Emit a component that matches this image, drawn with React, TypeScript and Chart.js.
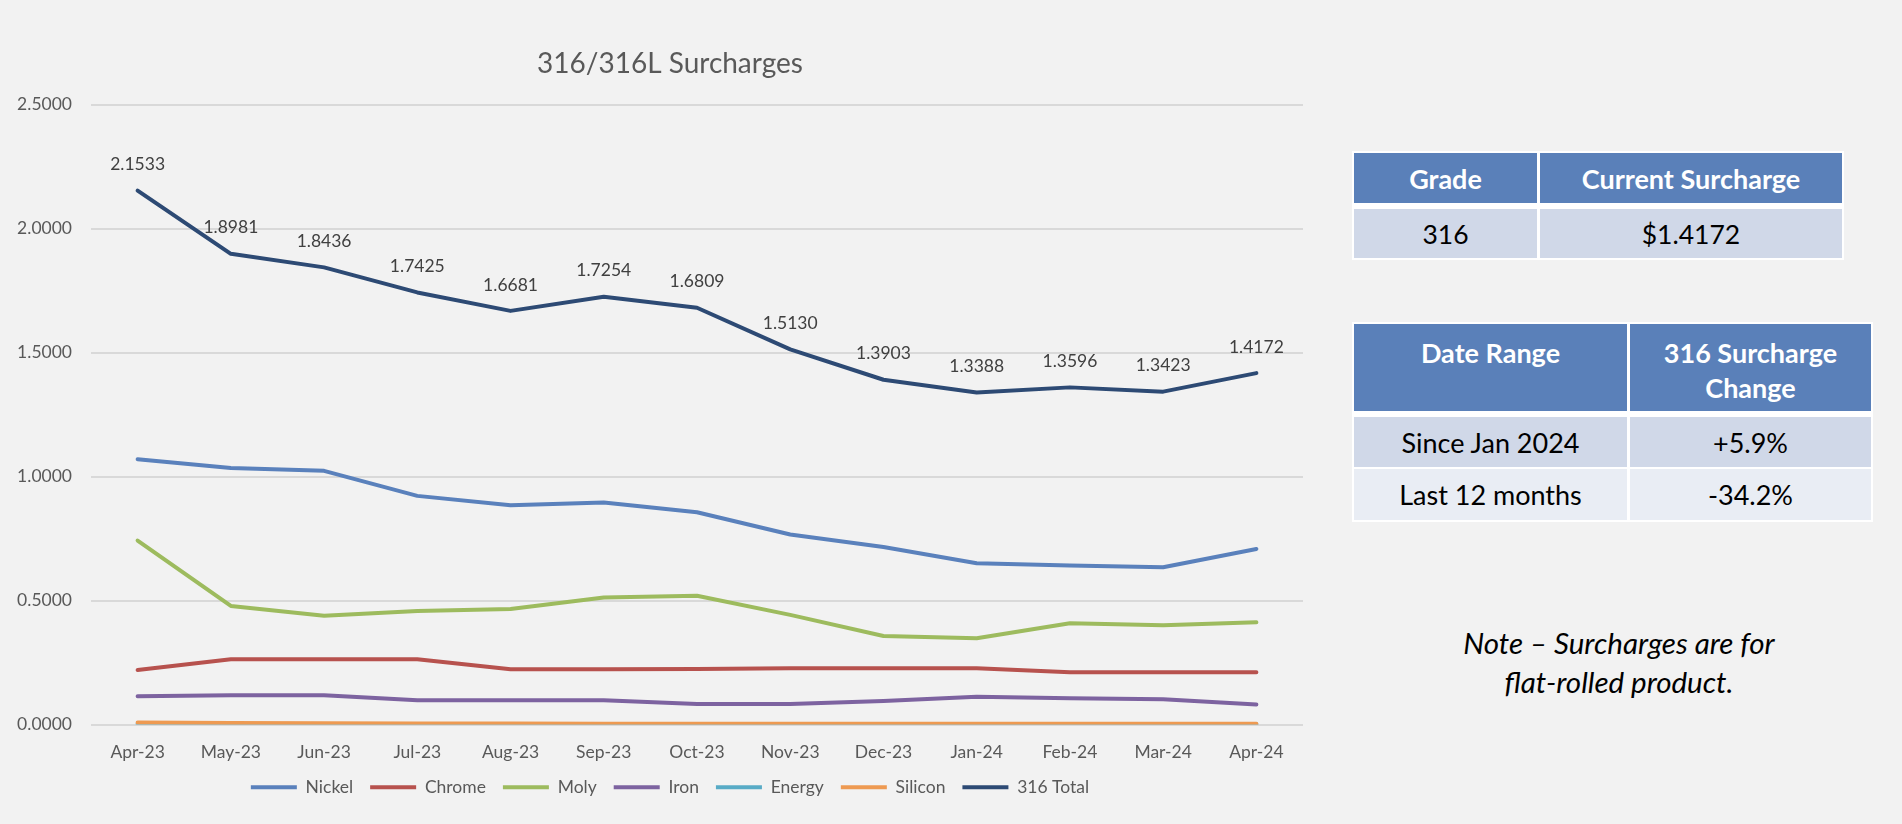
import React, { useEffect, useRef } from "react";
import { Chart, registerables } from "chart.js";

Chart.register(...registerables);

// Monthly surcharge components ($/lb) for 316/316L
const months = [
  "Apr-23", "May-23", "Jun-23", "Jul-23", "Aug-23", "Sep-23", "Oct-23",
  "Nov-23", "Dec-23", "Jan-24", "Feb-24", "Mar-24", "Apr-24",
];
const nickel = [1.070, 1.034, 1.023, 0.922, 0.884, 0.895, 0.856, 0.766, 0.716, 0.650, 0.641, 0.634, 0.708];
const chrome = [0.220, 0.263, 0.263, 0.263, 0.223, 0.223, 0.224, 0.227, 0.227, 0.227, 0.211, 0.211, 0.211];
const moly = [0.742, 0.478, 0.439, 0.458, 0.466, 0.512, 0.519, 0.442, 0.357, 0.348, 0.408, 0.400, 0.412];
const iron = [0.114, 0.118, 0.118, 0.098, 0.098, 0.098, 0.083, 0.083, 0.095, 0.112, 0.106, 0.102, 0.081];
const energy = [0.003, 0.001, 0.001, 0.001, 0.001, 0.001, 0.001, 0.001, 0.001, 0.001, 0.001, 0.001, 0.001];
const silicon = [0.008, 0.006, 0.005, 0.004, 0.004, 0.003, 0.003, 0.003, 0.003, 0.003, 0.003, 0.003, 0.003];
const total316 = [2.1533, 1.8981, 1.8436, 1.7425, 1.6681, 1.7254, 1.6809, 1.5130, 1.3903, 1.3388, 1.3596, 1.3423, 1.4172];

const seriesNames = ["Nickel", "Chrome", "Moly", "Iron", "Energy", "Silicon", "316 Total"];
const seriesColors = ["#5a81bc", "#b7524e", "#9dbb5e", "#7d63a0", "#58abc6", "#ee9a52", "#2d4a74"];
const seriesValues = [nickel, chrome, moly, iron, energy, silicon, total316];

// Side tables
const gradeHeader = ["Grade", "Current Surcharge"];
const gradeRow = ["316", "$1.4172"];
const changeHeader = ["Date Range", "316 Surcharge Change"];
const changeRows = [
  ["Since Jan 2024", "+5.9%"],
  ["Last 12 months", "-34.2%"],
];
const noteLines = ["Note \u2013 Surcharges are for", "flat-rolled product."];

const FONT = "Lato, 'Open Sans', sans-serif";
const HEADER_BG = "#5a80b9";
const ROW_BG = ["#d0d8e8", "#e9edf4"];

// Writes the value above each point of the total series
const totalLabels = {
  id: "totalLabels",
  afterDatasetsDraw(chart: any) {
    const idx = seriesNames.length - 1;
    const meta = chart.getDatasetMeta(idx);
    const ctx = chart.ctx;
    ctx.save();
    ctx.font = `17.5px ${FONT}`;
    ctx.fillStyle = "#404040";
    ctx.textAlign = "center";
    ctx.textBaseline = "middle";
    meta.data.forEach((pt: any, i: number) => {
      ctx.fillText(total316[i].toFixed(4), pt.x, pt.y - 26);
    });
    ctx.restore();
  },
};

function SurchargeChart() {
  const ref = useRef<HTMLCanvasElement | null>(null);
  useEffect(() => {
    if (!ref.current) return;
    const chart = new Chart(ref.current, {
      type: "line",
      data: {
        labels: months,
        datasets: seriesNames.map((name, i) => ({
          label: name,
          data: seriesValues[i],
          borderColor: seriesColors[i],
          backgroundColor: seriesColors[i],
          borderWidth: 4,
          pointRadius: 0,
          pointHoverRadius: 0,
          tension: 0,
          borderCapStyle: "round",
          borderJoinStyle: "round",
          order: seriesNames.length - 1 - i,
        })),
      },
      options: {
        animation: false,
        responsive: true,
        maintainAspectRatio: false,
        layout: { padding: { top: 0, left: 0, right: 0, bottom: 18 } },
        plugins: {
          title: {
            display: true,
            text: "316/316L Surcharges",
            color: "#595959",
            font: { family: FONT, size: 28, weight: "normal" },
            padding: { top: 47, bottom: 24 },
          },
          legend: {
            position: "bottom",
            labels: {
              color: "#595959",
              font: { family: FONT, size: 17.5 },
              usePointStyle: true,
              pointStyle: "line",
              pointStyleWidth: 46,
              padding: 17,
              sort: (a: any, b: any) => a.datasetIndex - b.datasetIndex,
            },
          },
          tooltip: { enabled: false },
        },
        scales: {
          x: {
            offset: true,
            grid: { display: false, drawTicks: false },
            border: { display: false },
            ticks: {
              color: "#595959",
              font: { family: FONT, size: 17.5 },
              padding: 17,
              maxRotation: 0,
              autoSkip: false,
            },
            afterFit: (s: any) => {
              s.height = 37;
            },
          },
          y: {
            min: 0,
            max: 2.5,
            grid: { color: "#d9d9d9", lineWidth: 2, drawTicks: false },
            border: { display: false },
            ticks: {
              stepSize: 0.5,
              color: "#595959",
              font: { family: FONT, size: 17.5 },
              padding: 19,
              callback: (v: any) => Number(v).toFixed(4),
            },
            afterFit: (s: any) => {
              s.width = 91;
            },
          },
          spacer: {
            position: "right",
            display: true,
            grid: { display: false, drawTicks: false },
            border: { display: false },
            ticks: { display: false },
            afterFit: (s: any) => {
              s.width = 37;
            },
          },
        },
      },
      plugins: [totalLabels],
    } as any);
    return () => chart.destroy();
  }, []);
  return (
    <div style={{ position: "absolute", left: 0, top: 0, width: 1340, height: 824 }}>
      <canvas ref={ref} />
    </div>
  );
}

const cellBase: React.CSSProperties = {
  position: "absolute",
  display: "flex",
  justifyContent: "center",
  alignItems: "center",
  textAlign: "center",
  fontFamily: FONT,
  boxSizing: "border-box",
};

function GradeTable() {
  const cols = [
    { left: 2, width: 183 },
    { left: 188, width: 302 },
  ];
  return (
    <div style={{ position: "absolute", left: 1352, top: 151, width: 492, height: 109, background: "#ffffff" }}>
      {gradeHeader.map((t, i) => (
        <div
          key={"h" + i}
          style={{
            ...cellBase,
            left: cols[i].left,
            width: cols[i].width,
            top: 2,
            height: 50,
            background: HEADER_BG,
            color: "#ffffff",
            fontWeight: 700,
            fontSize: 27,
          }}
        >
          {t}
        </div>
      ))}
      {gradeRow.map((t, i) => (
        <div
          key={"r" + i}
          style={{
            ...cellBase,
            left: cols[i].left,
            width: cols[i].width,
            top: 58,
            height: 49,
            background: ROW_BG[0],
            color: "#000000",
            fontSize: 26.5,
          }}
        >
          {t}
        </div>
      ))}
    </div>
  );
}

function ChangeTable() {
  const cols = [
    { left: 2, width: 273 },
    { left: 278, width: 241 },
  ];
  const rowPos = [
    { top: 95, height: 50 },
    { top: 147, height: 51 },
  ];
  return (
    <div style={{ position: "absolute", left: 1352, top: 322, width: 521, height: 200, background: "#ffffff" }}>
      {changeHeader.map((t, i) => (
        <div
          key={"h" + i}
          style={{
            ...cellBase,
            alignItems: "flex-start",
            left: cols[i].left,
            width: cols[i].width,
            top: 2,
            height: 87,
            paddingTop: 11,
            paddingLeft: 20,
            paddingRight: 20,
            lineHeight: "35px",
            background: HEADER_BG,
            color: "#ffffff",
            fontWeight: 700,
            fontSize: 27,
          }}
        >
          {t}
        </div>
      ))}
      {changeRows.map((row, r) =>
        row.map((t, i) => (
          <div
            key={r + "-" + i}
            style={{
              ...cellBase,
              left: cols[i].left,
              width: cols[i].width,
              top: rowPos[r].top,
              height: rowPos[r].height,
              background: ROW_BG[r],
              color: "#000000",
              fontSize: 27,
            }}
          >
            {t}
          </div>
        ))
      )}
    </div>
  );
}

function Note() {
  return (
    <div
      style={{
        position: "absolute",
        left: 1409,
        top: 623,
        width: 420,
        textAlign: "center",
        fontFamily: FONT,
        fontStyle: "italic",
        fontSize: 29.5,
        lineHeight: "39px",
        color: "#000000",
      }}
    >
      {noteLines.map((l, i) => (
        <div key={i}>{l}</div>
      ))}
    </div>
  );
}

export default function App() {
  return (
    <div
      style={{
        position: "fixed",
        left: 0,
        top: 0,
        width: 1902,
        height: 824,
        background: "#f2f2f2",
        overflow: "hidden",
      }}
    >
      <SurchargeChart />
      <GradeTable />
      <ChangeTable />
      <Note />
    </div>
  );
}
